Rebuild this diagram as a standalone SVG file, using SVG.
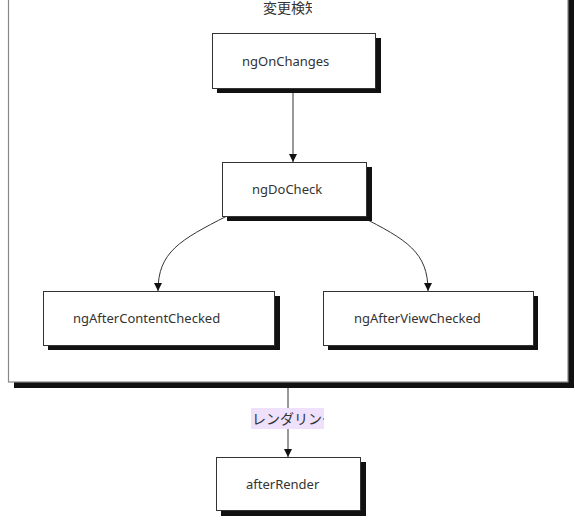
<svg xmlns="http://www.w3.org/2000/svg" width="575" height="531" viewBox="0 0 575 531">
<defs>
<style>
.shadow{fill:#111;}
.box{fill:#fff;stroke:#333;stroke-width:1;}
.cluster{fill:#fff;stroke:#888;stroke-width:1.2;}
.lbl{font-family:"Noto Sans","Liberation Sans",sans-serif;font-size:13px;fill:#333;}
.cjk{font-family:"Noto Sans CJK JP","Noto Sans CJK SC",sans-serif;font-size:14px;fill:#333;}
.edge{fill:none;stroke:#333;stroke-width:1;}
</style>
<marker id="arrow" viewBox="0 0 10 10" refX="10" refY="5" markerWidth="8" markerHeight="8" markerUnits="userSpaceOnUse" orient="auto">
<path d="M0,0 L10,5 L0,10 z" fill="#111"/>
</marker>
<clipPath id="clipTitle"><rect x="230" y="-10" width="82" height="30"/></clipPath>
<clipPath id="clipLbl"><rect x="251" y="408" width="73" height="21"/></clipPath>
</defs>
<g id="cluster-henkou">
<rect class="shadow" x="14" y="-6" width="560" height="394"/>
<rect class="cluster" x="8.5" y="-12" width="559.5" height="394"/>
<text class="cjk" x="263" y="13" clip-path="url(#clipTitle)">変更検知</text>
</g>
<g id="edges">
<path class="edge" d="M293,88 L293,162" marker-end="url(#arrow)"/>
<path class="edge" d="M227,216 C180,240 158,252 158,291" marker-end="url(#arrow)"/>
<path class="edge" d="M360,216 C407,240 428,252 428,291" marker-end="url(#arrow)"/>
<path class="edge" d="M288,388 L288,457" marker-end="url(#arrow)"/>
<g id="edge-label">
<rect x="251" y="408" width="73" height="21" fill="#efe0fc"/>
<text class="cjk" x="252" y="424" fill="#444" clip-path="url(#clipLbl)">レンダリング</text>
</g>
</g>
<g id="node-ngOnChanges">
<rect class="shadow" x="217" y="38" width="164" height="55"/>
<rect class="box" x="212.5" y="33.5" width="163" height="55"/>
<text class="lbl" x="242" y="65.5">ngOnChanges</text>
</g>
<g id="node-ngDoCheck">
<rect class="shadow" x="227" y="167" width="145" height="54"/>
<rect class="box" x="222.5" y="162.5" width="144" height="54"/>
<text class="lbl" x="252" y="194">ngDoCheck</text>
</g>
<g id="node-ngAfterContentChecked">
<rect class="shadow" x="48" y="296" width="232" height="54"/>
<rect class="box" x="43.5" y="291.5" width="231" height="54"/>
<text class="lbl" x="73" y="323">ngAfterContentChecked</text>
</g>
<g id="node-ngAfterViewChecked">
<rect class="shadow" x="328" y="296" width="210" height="54"/>
<rect class="box" x="323.5" y="291.5" width="210" height="54"/>
<text class="lbl" x="354" y="323">ngAfterViewChecked</text>
</g>
<g id="node-afterRender">
<rect class="shadow" x="221" y="462" width="145" height="54"/>
<rect class="box" x="216.5" y="457.5" width="144" height="53"/>
<text class="lbl" x="246" y="489">afterRender</text>
</g>
</svg>
